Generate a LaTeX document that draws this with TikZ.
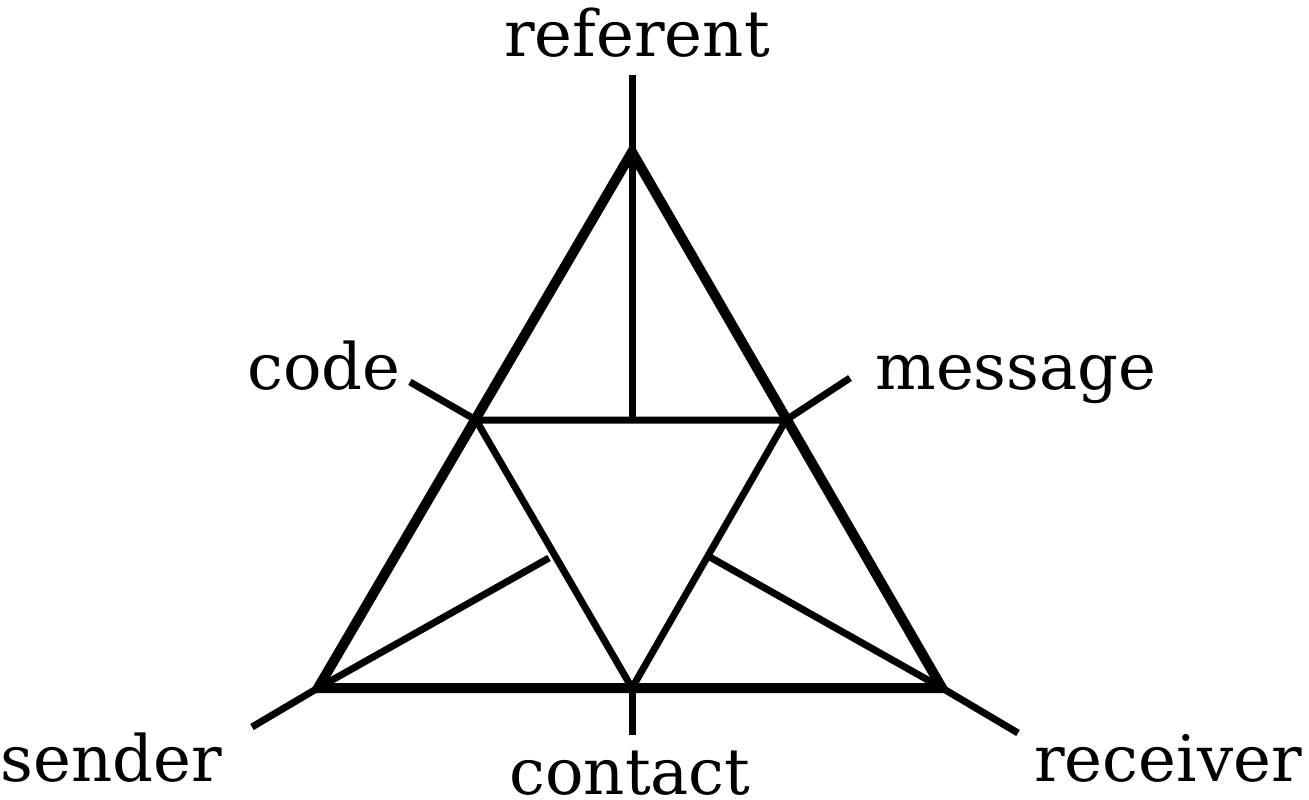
\documentclass[tikz,border=0pt]{standalone}
\usepackage{fontspec}
\setmainfont{DejaVu Serif}
\begin{document}
\begin{tikzpicture}[x=1pt,y=-1pt,
  thin line/.style={line width=7pt},
  lbl/.style={font=\fontsize{64}{68}\selectfont,inner sep=0pt,anchor=base}]
\useasboundingbox (0,0) rectangle (1309,800);
\coordinate (T) at (632,152);
\coordinate (L) at (318,688);
\coordinate (R) at (942,688);
\coordinate (ML) at (476,420);
\coordinate (MR) at (786,420);
\coordinate (MB) at (632,688);
\coordinate (topend) at (632,75);
\coordinate (botend) at (632,735);
\coordinate (codeend) at (410,382);
\coordinate (msgend) at (850,378);
\coordinate (sendend) at (252,727);
\coordinate (recend) at (1018,733);
\coordinate (inL) at (549,558);
\coordinate (inR) at (708,556);
\draw[thin line] (topend) -- (T) -- (632,420);
\draw[thin line] (MB) -- (botend);
\draw[thin line] (ML) -- (codeend);
\draw[thin line] (MR) -- (msgend);
\draw[thin line] (L) -- (sendend);
\draw[thin line] (R) -- (recend);
\draw[thin line] (ML) -- (MR) -- (MB) -- cycle;
\draw[thin line] (L) -- (inL);
\draw[thin line] (R) -- (inR);
\draw[line width=10pt,line join=miter] (T) -- (L) -- (R) -- cycle;
\node[lbl] (referent) at (637,57) {referent};
\node[lbl] (code) at (324,389) {code};
\node[lbl] (message) at (1016,389) {message};
\node[lbl] (sender) at (111,781) {sender};
\node[lbl] (contact) at (630,794) {contact};
\node[lbl] (receiver) at (1168,781) {receiver};
\end{tikzpicture}
\end{document}
